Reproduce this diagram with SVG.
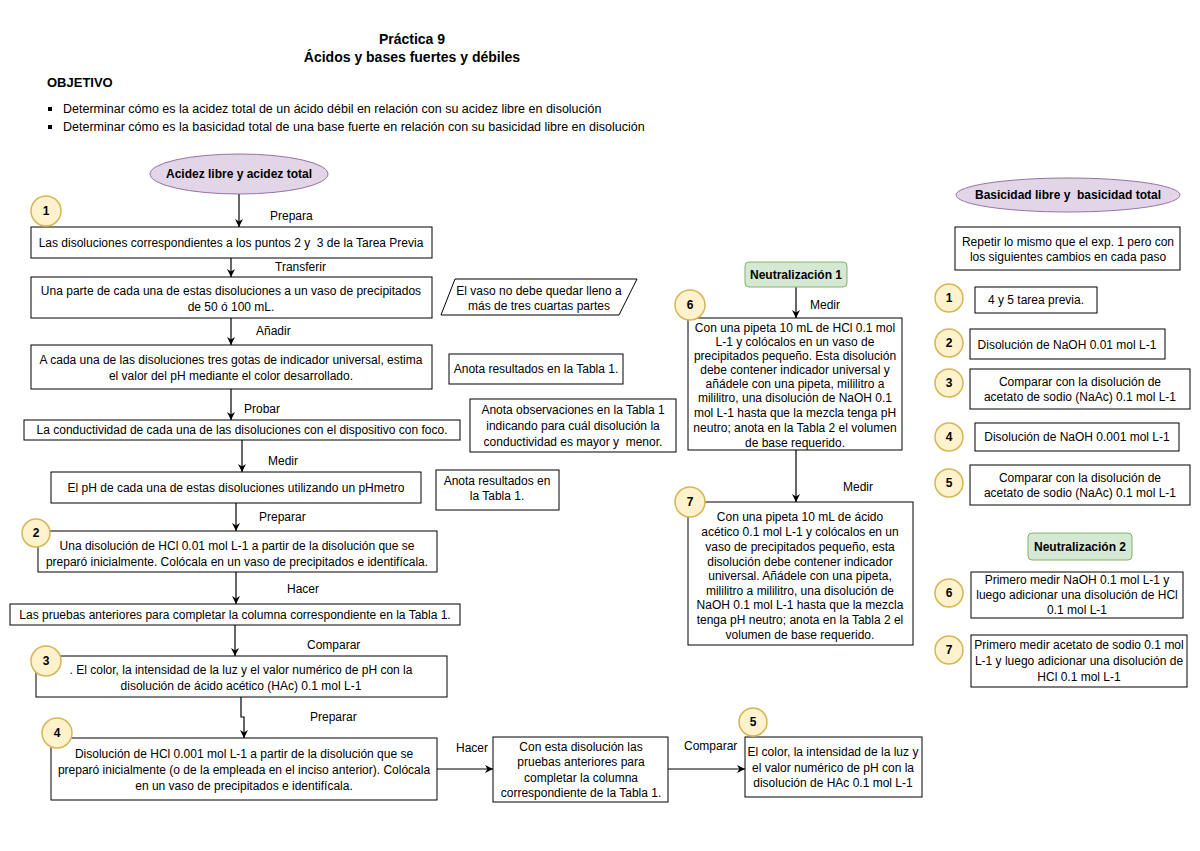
<svg xmlns="http://www.w3.org/2000/svg" width="1200" height="851" viewBox="0 0 1200 851">
<defs>
<marker id="arr" viewBox="0 0 10 10" refX="10" refY="5" markerWidth="8" markerHeight="8" markerUnits="userSpaceOnUse" orient="auto">
<path d="M0,0 L10,5 L0,10 L3,5 z" fill="#000"/>
</marker>
<style>
text{font-family:"Liberation Sans",Arial,sans-serif;font-size:12px;fill:#000}
.c{text-anchor:middle}
.b{font-weight:bold}
.box{fill:#fff;stroke:#000;stroke-width:1}
.num{fill:#fff2cc;stroke:#d6b656;stroke-width:1.5}
.ell{fill:#e1d5e7;stroke:#9673a6;stroke-width:1}
.grn{fill:#d5e8d4;stroke:#82b366;stroke-width:1}
.ln{fill:none;stroke:#000;stroke-width:1.2;marker-end:url(#arr)}
</style>
</defs>
<rect width="1200" height="851" fill="#fff"/>

<g id="header">
<text class="c b" x="412" y="44" style="font-size:14px">Práctica 9</text>
<text class="c b" x="412" y="62" style="font-size:14px">Ácidos y bases fuertes y débiles</text>
<text class="b" x="47" y="87" style="font-size:13px">OBJETIVO</text>
<rect x="48" y="107" width="4" height="4" fill="#000"/>
<rect x="48" y="125" width="4" height="4" fill="#000"/>
<text x="63" y="113" style="font-size:12.5px">Determinar cómo es la acidez total de un ácido débil en relación con su acidez libre en disolución</text>
<text x="63" y="131" style="font-size:12.5px">Determinar cómo es la basicidad total de una base fuerte en relación con su basicidad libre en disolución</text>
</g>

<g id="connectors">
<path class="ln" d="M239,194 V227"/>
<path class="ln" d="M231,258 V277"/>
<path class="ln" d="M231,318 V345"/>
<path class="ln" d="M231,389 V420"/>
<path class="ln" d="M242,440 V472"/>
<path class="ln" d="M236,503 V531"/>
<path class="ln" d="M236,572 V604"/>
<path class="ln" d="M235,625 V656"/>
<path class="ln" d="M241,697 V717 H244 V738"/>
<path class="ln" d="M437,769 H493"/>
<path class="ln" d="M668,769 H745"/>
<path class="ln" d="M796,287 V318"/>
<path class="ln" d="M796,450 V502"/>
<text x="270" y="220">Prepara</text>
<text x="275" y="271">Transferir</text>
<text x="256" y="335">Añadir</text>
<text x="244" y="413">Probar</text>
<text x="268" y="465">Medir</text>
<text x="259" y="521">Preparar</text>
<text x="287" y="593">Hacer</text>
<text x="307" y="649">Comparar</text>
<text x="310" y="721">Preparar</text>
<text x="456" y="752">Hacer</text>
<text x="684" y="750">Comparar</text>
<text x="810" y="309">Medir</text>
<text x="843" y="491">Medir</text>
</g>

<g id="acidez">
<ellipse class="ell" cx="239" cy="174" rx="89" ry="20"/>
<text class="c b" x="239" y="178">Acidez libre y acidez total</text>
</g>

<g id="box1"><rect class="box" x="31" y="227" width="401" height="31"/><text class="c" x="231" y="247" xml:space="preserve">Las disoluciones correspondientes a los puntos 2 y  3 de la Tarea Previa</text></g>
<g id="n1"><circle class="num" cx="46" cy="211" r="15"/><text class="c b" x="46" y="215">1</text></g>
<g id="box2"><rect class="box" x="31" y="277" width="401" height="41"/><text class="c" x="231" y="295">Una parte de cada una de estas disoluciones a un vaso de precipitados</text><text class="c" x="231" y="311">de 50 ó 100 mL.</text></g>
<g id="note1"><polygon class="box" points="455,279 637,279 619,315 441,315"/><text class="c" x="539" y="295">El vaso no debe quedar lleno a</text><text class="c" x="539" y="310">más de tres cuartas partes</text></g>
<g id="box3"><rect class="box" x="31" y="345" width="401" height="44"/><text class="c" x="231" y="364">A cada una de las disoluciones tres gotas de indicador universal, estima</text><text class="c" x="231" y="380">el valor del pH mediante el color desarrollado.</text></g>
<g id="note2"><rect class="box" x="449" y="354" width="174" height="30"/><text class="c" x="536" y="373">Anota resultados en la Tabla 1.</text></g>
<g id="box4"><rect class="box" x="24" y="420" width="436" height="20"/><text class="c" x="242" y="434">La conductividad de cada una de las disoluciones con el dispositivo con foco.</text></g>
<g id="note3"><rect class="box" x="470" y="399" width="206" height="53"/><text class="c" x="573" y="414">Anota observaciones en la Tabla 1</text><text class="c" x="573" y="430">indicando para cuál disolución la</text><text class="c" x="573" y="446" xml:space="preserve">conductividad es mayor y  menor.</text></g>
<g id="box5"><rect class="box" x="51" y="472" width="370" height="31"/><text class="c" x="236" y="492">El pH de cada una de estas disoluciones utilizando un pHmetro</text></g>
<g id="note4"><rect class="box" x="436" y="470" width="123" height="40"/><text class="c" x="497" y="485">Anota resultados en</text><text class="c" x="497" y="500">la Tabla 1.</text></g>
<g id="box6"><rect class="box" x="38" y="531" width="399" height="41"/><text class="c" x="237" y="550">Una disolución de HCl 0.01 mol L-1 a partir de la disolución que se</text><text class="c" x="237" y="566">preparó inicialmente. Colócala en un vaso de precipitados e identifícala.</text></g>
<g id="n2"><circle class="num" cx="36" cy="533" r="14"/><text class="c b" x="36" y="537">2</text></g>
<g id="box7"><rect class="box" x="10" y="604" width="450" height="21"/><text class="c" x="235" y="619">Las pruebas anteriores para completar la columna correspondiente en la Tabla 1.</text></g>
<g id="box8"><rect class="box" x="36" y="656" width="411" height="41"/><text class="c" x="241" y="674">. El color, la intensidad de la luz y el valor numérico de pH con la</text><text class="c" x="241" y="690">disolución de ácido acético (HAc) 0.1 mol L-1</text></g>
<g id="n3"><circle class="num" cx="46" cy="661" r="15"/><text class="c b" x="46" y="665">3</text></g>
<g id="box9"><rect class="box" x="51" y="738" width="386" height="62"/><text class="c" x="244" y="758">Disolución de HCl 0.001 mol L-1 a partir de la disolución que se</text><text class="c" x="244" y="774">preparó inicialmente (o de la empleada en el inciso anterior). Colócala</text><text class="c" x="244" y="790">en un vaso de precipitados e identifícala.</text></g>
<g id="n4"><circle class="num" cx="57" cy="733" r="15"/><text class="c b" x="57" y="737">4</text></g>
<g id="box10"><rect class="box" x="493" y="737" width="175" height="65"/><text class="c" x="581" y="751">Con esta disolución las</text><text class="c" x="581" y="766">pruebas anteriores para</text><text class="c" x="581" y="782">completar la columna</text><text class="c" x="581" y="797">correspondiente de la Tabla 1.</text></g>
<g id="box11"><rect class="box" x="745" y="737" width="177" height="60"/><text class="c" x="833" y="756">El color, la intensidad de la luz y</text><text class="c" x="833" y="772">el valor numérico de pH con la</text><text class="c" x="833" y="787">disolución de HAc 0.1 mol L-1</text></g>
<g id="n5"><circle class="num" cx="753" cy="722" r="14"/><text class="c b" x="753" y="726">5</text></g>

<g id="neut1"><rect class="grn" x="745" y="262" width="102" height="25" rx="4"/><text class="c b" x="796" y="279">Neutralización 1</text></g>
<g id="box12"><rect class="box" x="688" y="318" width="214" height="132"/>
<text class="c" x="795" y="332">Con una pipeta 10 mL de HCl 0.1 mol</text>
<text class="c" x="795" y="346">L-1 y colócalos en un vaso de</text>
<text class="c" x="795" y="360">precipitados pequeño. Esta disolución</text>
<text class="c" x="795" y="374">debe contener indicador universal y</text>
<text class="c" x="795" y="388">añádele con una pipeta, mililitro a</text>
<text class="c" x="795" y="402">mililitro, una disolución de NaOH 0.1</text>
<text class="c" x="795" y="417">mol L-1 hasta que la mezcla tenga pH</text>
<text class="c" x="795" y="432">neutro; anota en la Tabla 2 el volumen</text>
<text class="c" x="795" y="447">de base requerido.</text></g>
<g id="n6"><circle class="num" cx="690" cy="305" r="15"/><text class="c b" x="690" y="309">6</text></g>
<g id="box13"><rect class="box" x="688" y="502" width="225" height="143"/>
<text class="c" x="800" y="521">Con una pipeta 10 mL de ácido</text>
<text class="c" x="800" y="536">acético 0.1 mol L-1 y colócalos en un</text>
<text class="c" x="800" y="551">vaso de precipitados pequeño, esta</text>
<text class="c" x="800" y="566">disolución debe contener indicador</text>
<text class="c" x="800" y="580">universal. Añádele con una pipeta,</text>
<text class="c" x="800" y="595">mililitro a mililitro, una disolución de</text>
<text class="c" x="800" y="609">NaOH 0.1 mol L-1 hasta que la mezcla</text>
<text class="c" x="800" y="624">tenga pH neutro; anota en la Tabla 2 el</text>
<text class="c" x="800" y="639">volumen de base requerido.</text></g>
<g id="n7"><circle class="num" cx="690" cy="502" r="15"/><text class="c b" x="690" y="506">7</text></g>

<g id="basicidad"><ellipse class="ell" cx="1068" cy="195" rx="112" ry="17"/><text class="c b" x="1068" y="199" xml:space="preserve">Basicidad libre y  basicidad total</text></g>
<g id="repetir"><rect class="box" x="955" y="227" width="225" height="43"/><text class="c" x="1068" y="246">Repetir lo mismo que el exp. 1 pero con</text><text class="c" x="1068" y="261">los siguientes cambios en cada paso</text></g>
<g id="r1"><circle class="num" cx="949" cy="298" r="14"/><text class="c b" x="949" y="302">1</text><rect class="box" x="975" y="287" width="122" height="26"/><text class="c" x="1036" y="304">4 y 5 tarea previa.</text></g>
<g id="r2"><circle class="num" cx="949" cy="343" r="14"/><text class="c b" x="949" y="347">2</text><rect class="box" x="970" y="329" width="195" height="30"/><text class="c" x="1067" y="349">Disolución de NaOH 0.01 mol L-1</text></g>
<g id="r3"><circle class="num" cx="949" cy="383" r="14"/><text class="c b" x="949" y="387">3</text><rect class="box" x="970" y="369" width="220" height="40"/><text class="c" x="1080" y="386">Comparar con la disolución de</text><text class="c" x="1080" y="401">acetato de sodio (NaAc) 0.1 mol L-1</text></g>
<g id="r4"><circle class="num" cx="949" cy="437" r="14"/><text class="c b" x="949" y="441">4</text><rect class="box" x="975" y="423" width="204" height="28"/><text class="c" x="1077" y="441">Disolución de NaOH 0.001 mol L-1</text></g>
<g id="r5"><circle class="num" cx="949" cy="483" r="14"/><text class="c b" x="949" y="487">5</text><rect class="box" x="970" y="465" width="220" height="40"/><text class="c" x="1080" y="482">Comparar con la disolución de</text><text class="c" x="1080" y="497">acetato de sodio (NaAc) 0.1 mol L-1</text></g>
<g id="neut2"><rect class="grn" x="1028" y="533" width="104" height="27" rx="4"/><text class="c b" x="1080" y="551">Neutralización 2</text></g>
<g id="r6"><circle class="num" cx="949" cy="593" r="14"/><text class="c b" x="949" y="597">6</text><rect class="box" x="971" y="572" width="212" height="46"/><text class="c" x="1077" y="584">Primero medir NaOH 0.1 mol L-1 y</text><text class="c" x="1077" y="599">luego adicionar una disolución de HCl</text><text class="c" x="1077" y="614">0.1 mol L-1</text></g>
<g id="r7"><circle class="num" cx="949" cy="650" r="14"/><text class="c b" x="949" y="654">7</text><rect class="box" x="971" y="635" width="216" height="52"/><text class="c" x="1079" y="649">Primero medir acetato de sodio 0.1 mol</text><text class="c" x="1079" y="665">L-1 y luego adicionar una disolución de</text><text class="c" x="1079" y="681">HCl 0.1 mol L-1</text></g>
</svg>
